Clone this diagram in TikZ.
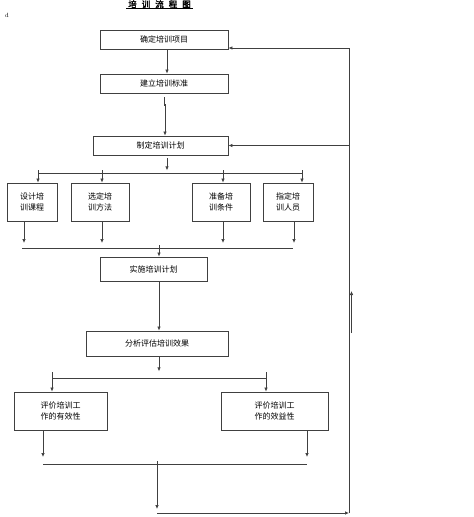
\documentclass[tikz,border=0pt]{standalone}
\usepackage{fontspec}
\newfontfamily\cjk{Noto Sans CJK SC}
\newfontfamily\cjkbold{Noto Sans CJK SC}[FakeBold=2]
\usetikzlibrary{arrows.meta,calc}
\begin{document}
\begin{tikzpicture}[x=1pt,y=-1pt,
  font=\cjk\fontsize{8}{11}\selectfont,
  box/.style={draw=black!75, line width=0.8pt, inner sep=0pt, align=center},
  arr/.style={draw=black!75, line width=0.7pt, -{Latex[length=4pt,width=3.5pt]}},
  ln/.style={draw=black!75, line width=0.7pt}]
\useasboundingbox (0,0) rectangle (474,517);
% title and stray letter
\node[inner sep=0pt, font=\cjkbold\fontsize{8.5}{9}\selectfont] (title) at (159.5,4.2)
  {培\hspace{5pt}训\hspace{5pt}流\hspace{5pt}程\hspace{5pt}图};
\draw[line width=0.8pt] (126,8.6) -- (193,8.6);
\node[inner sep=0pt, font=\fontsize{6}{7}\selectfont] (d) at (7,15) {d};
% main boxes
\node[box, minimum width=128pt, minimum height=19pt] (b1) at (164,39.5) {确定培训项目};
\node[box, minimum width=128pt, minimum height=19pt] (b2) at (164,83.5) {建立培训标准};
\node[box, minimum width=135pt, minimum height=19pt] (b3) at (160.5,145.5) {制定培训计划};
\node[box, minimum width=50pt, minimum height=38pt] (b4) at (32,202) {设计培\\训课程};
\node[box, minimum width=58pt, minimum height=38pt] (b5) at (100,202) {选定培\\训方法};
\node[box, minimum width=58pt, minimum height=38pt] (b6) at (221,202) {准备培\\训条件};
\node[box, minimum width=50pt, minimum height=38pt] (b7) at (288,202) {指定培\\训人员};
\node[box, minimum width=107pt, minimum height=24pt] (b8) at (153.5,269) {实施培训计划};
\node[box, minimum width=142pt, minimum height=25pt] (b9) at (157,343.5) {分析评估培训效果};
\node[box, minimum width=93pt, minimum height=38pt] (b10) at (60.5,411) {评价培训工\\作的有效性};
\node[box, minimum width=107pt, minimum height=38pt] (b11) at (274.5,411) {评价培训工\\作的效益性};
% column coordinates
\coordinate (c167) at (167,0);
\coordinate (c165) at (165,0);
\coordinate (c159) at (159,0);
% top chain
\draw[arr] (b1.south -| c167) -- (b2.north -| c167);
\draw[ln] ($(b2.south -| c165)+(-1,4)$) -- ($(b2.south -| c165)+(-1,13)$);
\draw[arr] ($(b2.south -| c165)+(0,11)$) -- (b3.north -| c165);
\draw[arr] ($(b3.south -| c167)+(0,3)$) -- ($(b3.south -| c167)+(0,15)$);
% bus 1
\coordinate (bus1L) at (38,173);
\coordinate (bus1R) at (302,173);
\draw[ln] (bus1L) -- (bus1R);
\coordinate (k4) at (38,170);
\coordinate (k5) at (102,170);
\coordinate (k6) at (223,170);
\coordinate (k7) at (302,170);
\draw[arr] (k4) -- (b4.north -| k4);
\draw[arr] (k5) -- (b5.north -| k5);
\draw[arr] (k6) -- (b6.north -| k6);
\draw[arr] (k7) -- (b7.north -| k7);
% bus 2
\coordinate (m4) at (24,243);
\coordinate (m5) at (102,243);
\coordinate (m6) at (223,243);
\coordinate (m7) at (294,243);
\draw[arr] (b4.south -| m4) -- (m4);
\draw[arr] (b5.south -| m5) -- (m5);
\draw[arr] (b6.south -| m6) -- (m6);
\draw[arr] (b7.south -| m7) -- (m7);
\coordinate (bus2L) at (22,248);
\coordinate (bus2R) at (293,248);
\draw[ln] (bus2L) -- (bus2R);
\coordinate (j8) at (159,245);
\draw[arr] (j8) -- (b8.north -| j8);
\draw[arr] (b8.south -| c159) -- (b9.north -| c159);
\draw[arr] (b9.south -| c159) -- ($(b9.south -| c159)+(0,15)$);
% bus 3
\coordinate (bus3L) at (52,378);
\coordinate (bus3R) at (266,378);
\draw[ln] (bus3L) -- (bus3R);
\coordinate (n10) at (52,372);
\coordinate (n11) at (266,372);
\draw[arr] (n10) -- (b10.north -| n10);
\draw[arr] (n11) -- (b11.north -| n11);
% bus 4
\coordinate (p10) at (43,457);
\coordinate (p11) at (307,457);
\draw[arr] (b10.south -| p10) -- (p10);
\draw[arr] (b11.south -| p11) -- (p11);
\coordinate (bus4L) at (43,464);
\coordinate (bus4R) at (307,464);
\draw[ln] (bus4L) -- (bus4R);
% feedback loop
\coordinate (f0) at (157,461);
\coordinate (f0a) at (157,509);
\coordinate (f1) at (157,513);
\coordinate (f2) at (349,513);
\coordinate (f3) at (349,48);
\draw[arr] (f0) -- (f0a);
\draw[arr] (f1) -- (f2);
\draw[ln] (f2) -- (f3);
\draw[arr] (f3) -- (b1.east |- f3);
\draw[arr] (f3 |- b3.east) -- (b3.east);
\coordinate (g0) at (351.5,333);
\coordinate (g1) at (351.5,291);
\draw[arr] (g0) -- (g1);
\end{tikzpicture}
\end{document}
